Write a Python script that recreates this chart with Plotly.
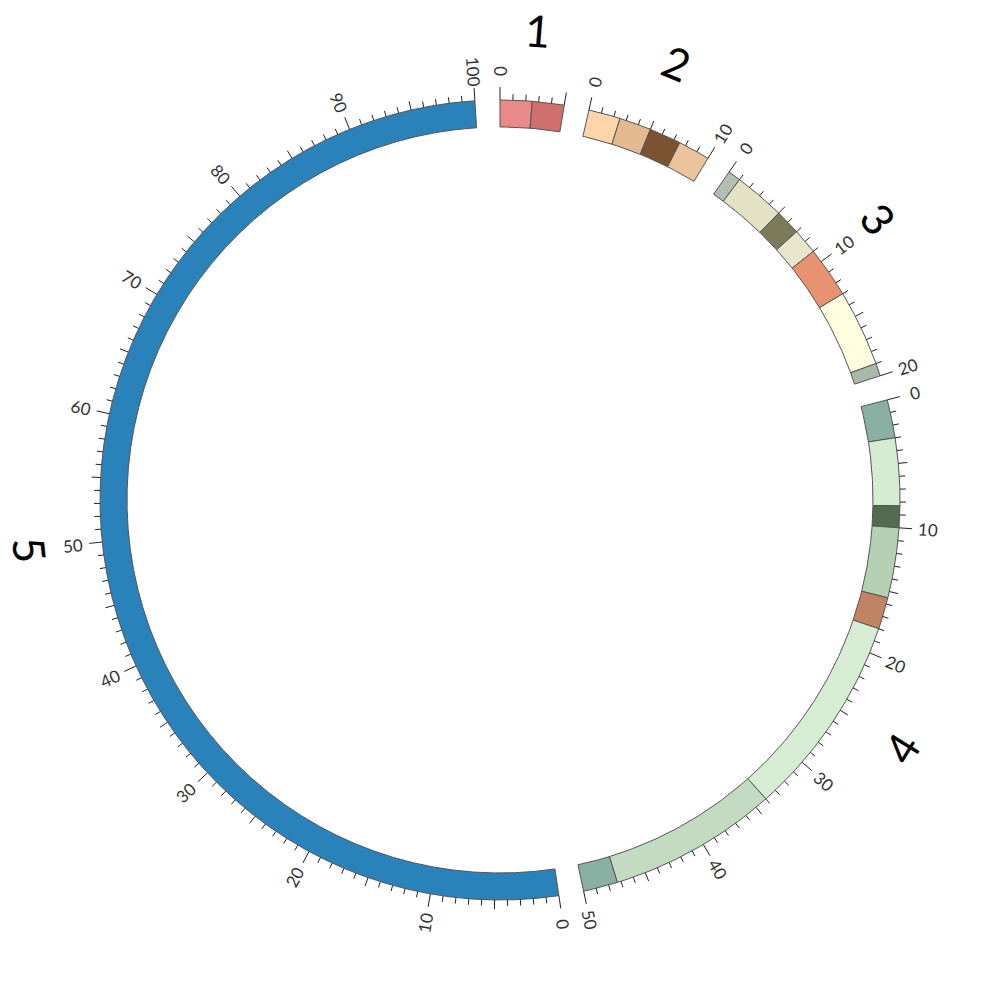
import numpy as np
import plotly.graph_objects as go

# chromosomes and their lengths
chrom_names = ["1", "2", "3", "4", "5"]
chrom_lengths = [5, 10, 20, 50, 100]

# cytobands: chromosome, start, end, colour
band_chrom = ["1", "1",
              "2", "2", "2", "2",
              "3", "3", "3", "3", "3", "3", "3",
              "4", "4", "4", "4", "4", "4", "4", "4",
              "5"]
band_start = [0, 2.5,
              0, 2.5, 5, 7.5,
              0, 1, 5, 7, 9, 13, 19,
              0, 3, 8.3, 10, 15.5, 18, 34, 47.3,
              0]
band_end = [2.5, 5,
            2.5, 5, 7.5, 10,
            1, 5, 7, 9, 13, 19, 20,
            3, 8.3, 10, 15.5, 18, 34, 47.3, 50,
            100]
band_color = ["#e88a8a", "#d06f6f",
              "#fdd5ab", "#e3b990", "#7b5330", "#ecc49c",
              "#b0bfb2", "#e3e2c5", "#7b7b5a", "#e8e6cc", "#e8926f", "#fefde0", "#a9b8a8",
              "#8aafa3", "#d4ecd2", "#556b50", "#b5d1b4", "#c08465", "#d6edd4", "#c3dbc1", "#8aafa3",
              "#2a82ba"]
label_step = 10

GAP = 3.6
R_IN, R_OUT = 373, 400
scale = (360 - GAP * len(chrom_names)) / sum(chrom_lengths)
offsets = {}
a = 0.0
for n, L in zip(chrom_names, chrom_lengths):
    offsets[n] = a
    a += L * scale + GAP


def ang(chrom, pos):
    return offsets[chrom] + pos * scale


def xy(deg, r):
    t = np.radians(deg)
    return r * np.sin(t), r * np.cos(t)


def rot(deg):
    # keep text readable: radial orientation, flipped on the left half
    deg = deg % 360
    return deg - 90 if deg < 180 else deg - 270


fig = go.Figure()

for c, s, e, col in zip(band_chrom, band_start, band_end, band_color):
    th = np.linspace(ang(c, s), ang(c, e), 60)
    xo, yo = xy(th, R_OUT)
    xi, yi = xy(th[::-1], R_IN)
    fig.add_trace(go.Scatter(
        x=np.r_[xo, xi, xo[:1]], y=np.r_[yo, yi, yo[:1]],
        fill="toself", fillcolor=col, mode="lines",
        line=dict(color="#555555", width=1), hoverinfo="skip"))

tx, ty = [], []
for n, L in zip(chrom_names, chrom_lengths):
    for p in range(0, L + 1):
        if p % label_step == 0 or p == L:
            tl = 13
        elif p % 5 == 0:
            tl = 9
        else:
            tl = 6
        d = ang(n, p)
        x0, y0 = xy(d, R_OUT)
        x1, y1 = xy(d, R_OUT + tl)
        tx += [x0, x1, None]
        ty += [y0, y1, None]
        if p % label_step == 0:
            lx, ly = xy(d, R_OUT + 29)
            fig.add_annotation(x=lx, y=ly, text=str(p), showarrow=False,
                               textangle=rot(d),
                               font=dict(size=17, color="#333333", family="Lato"))
    mid = ang(n, L / 2)
    nx, ny = xy(mid, 472)
    m = mid % 360
    if m < 90:
        ta = m
    elif m < 270:
        ta = m - 180
    else:
        ta = m - 360
    fig.add_annotation(x=nx, y=ny, text=n, showarrow=False, textangle=ta,
                       font=dict(size=44, color="black", family="Lato"))

fig.add_trace(go.Scatter(x=tx, y=ty, mode="lines",
                         line=dict(color="#222222", width=1), hoverinfo="skip"))

# page body has an 8px margin, so shift ranges to keep the centre at (500, 500)
fig.update_layout(
    width=1000, height=1000, showlegend=False,
    plot_bgcolor="white", paper_bgcolor="white",
    margin=dict(l=0, r=0, t=0, b=0),
    xaxis=dict(range=[-492, 508], visible=False),
    yaxis=dict(range=[-508, 492], visible=False, scaleanchor="x"),
)
fig.write_html("out.html")
